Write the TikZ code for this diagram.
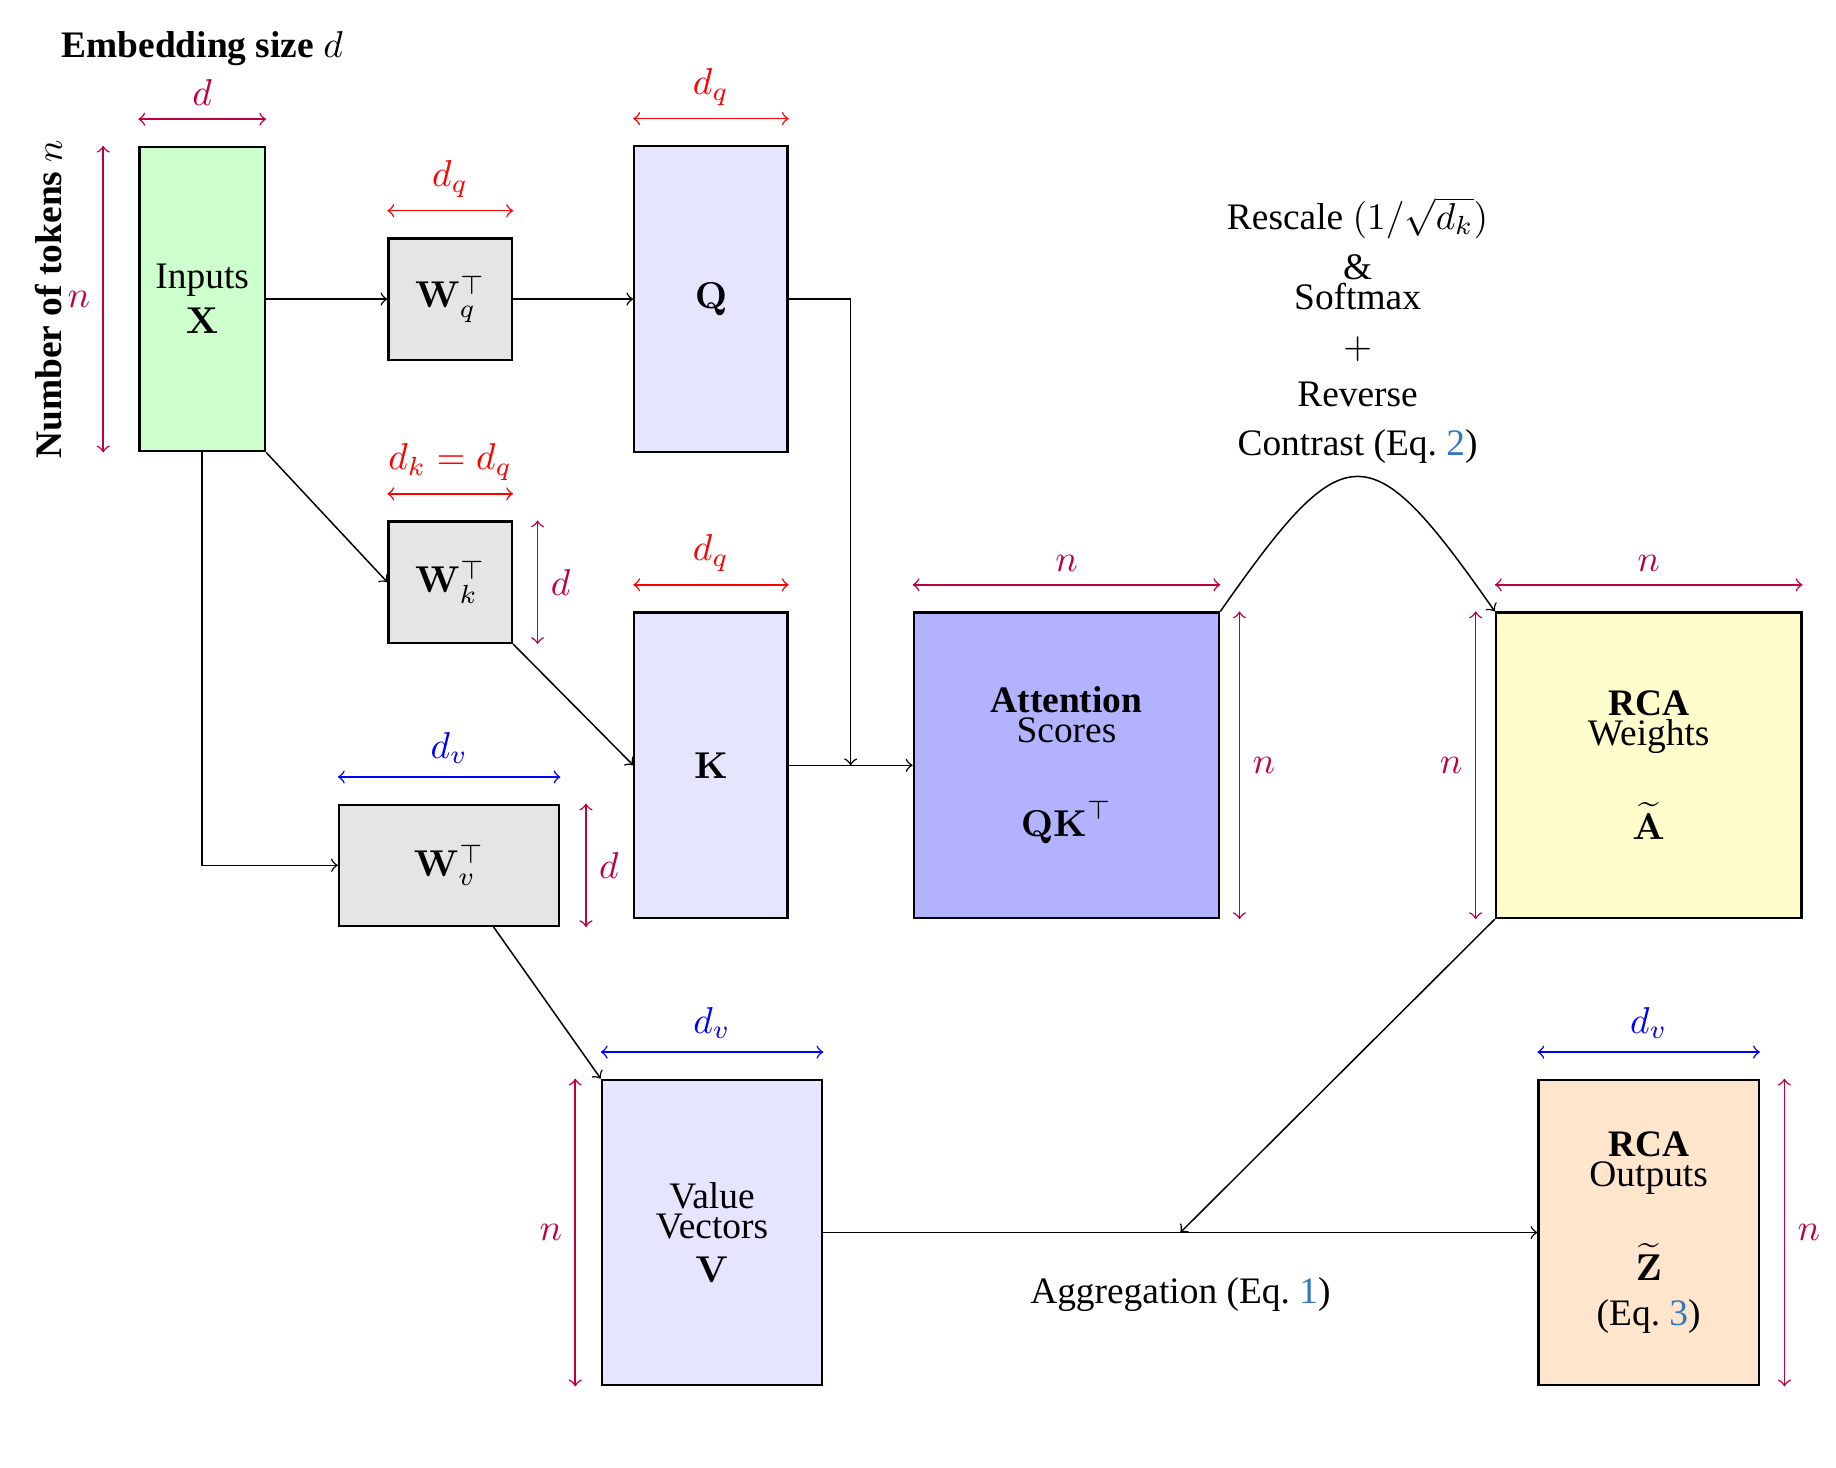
\documentclass[tikz,border=0pt]{standalone}
\usepackage[no-math]{fontspec}
\setmainfont{Liberation Serif}
\usepackage{amsmath}
\usetikzlibrary{arrows,positioning,calc}
\definecolor{eqcol}{RGB}{50,120,190}
\tikzset{
  mat/.style={draw,semithick,inner sep=0pt,align=center},
  dimr/.style={<->,red},
  dimb/.style={<->,blue},
  dimp/.style={<->,purple}
}

\begin{document}
\begin{tikzpicture}[thin]
\useasboundingbox(0,0)rectangle(17.25,-13.79);
\node[mat,fill=green!20,minimum width=1.18cm,minimum height=2.86cm](X)at(1.90,-2.81){Inputs\\$\mathbf{X}$};
\node[mat,fill=gray!20,minimum width=1.16cm,minimum height=1.14cm](Wq)at(4.23,-2.81){$\mathbf{W}_q^\top$};
\node[mat,fill=blue!10,minimum width=1.44cm,minimum height=2.87cm](Q)at(6.68,-2.81){$\mathbf{Q}$};
\node[mat,fill=gray!20,minimum width=1.16cm,minimum height=1.14cm](Wk)at(4.23,-5.47){$\mathbf{W}_k^\top$};
\node[mat,fill=blue!10,minimum width=1.44cm,minimum height=2.87cm](K)at(6.68,-7.19){$\mathbf{K}$};
\node[mat,fill=gray!20,minimum width=2.07cm,minimum height=1.14cm](Wv)at(4.22,-8.13){$\mathbf{W}_v^\top$};
\node[mat,fill=blue!10,minimum width=2.07cm,minimum height=2.87cm](V)at(6.69,-11.58){Value\\[-4pt]Vectors\\$\mathbf{V}$};
\node[mat,fill=blue!30,minimum width=2.87cm,minimum height=2.87cm](S)at(10.02,-7.19){\textbf{Attention}\\[-4pt]Scores\\[13pt]$\mathbf{QK}^\top$};
\node[mat,fill=yellow!20,minimum width=2.87cm,minimum height=2.87cm](A)at(15.49,-7.19){\textbf{RCA}\\[-4pt]Weights\\[13pt]$\widetilde{\mathbf{A}}$};
\node[mat,fill=orange!20,minimum width=2.07cm,minimum height=2.87cm](Z)at(15.49,-11.58){\textbf{RCA}\\[-4pt]Outputs\\[13pt]$\widetilde{\mathbf{Z}}$\\(Eq.~\textcolor{eqcol}{3})};
\node[font=\bfseries](emb)at(1.90,-0.46){Embedding size $d$};
\node[font=\bfseries,rotate=90](tok)at(0.46,-2.81){Number of tokens $n$};
\draw[dimp]([yshift=2.5mm]X.north west)--node[above]{$d$}([yshift=2.5mm]X.north east);
\draw[dimp]([xshift=-3.3mm]X.north west)--node[left]{$n$}([xshift=-3.3mm]X.south west);
\draw[dimr]([yshift=2.5mm]Wq.north west)--node[above]{$d_q$}([yshift=2.5mm]Wq.north east);
\draw[dimr]([yshift=2.5mm]Q.north west)--node[above]{$d_q$}([yshift=2.5mm]Q.north east);
\draw[dimr]([yshift=2.5mm]Wk.north west)--node[above]{$d_k=d_q$}([yshift=2.5mm]Wk.north east);
\draw[dimp]([xshift=2.3mm]Wk.north east)--node[right]{$d$}([xshift=2.3mm]Wk.south east);
\draw[dimr]([yshift=2.5mm]K.north west)--node[above]{$d_q$}([yshift=2.5mm]K.north east);
\draw[dimb]([yshift=2.5mm]Wv.north west)--node[above]{$d_v$}([yshift=2.5mm]Wv.north east);
\draw[dimp]([xshift=2.4mm]Wv.north east)--node[right]{$d$}([xshift=2.4mm]Wv.south east);
\draw[dimb]([yshift=2.5mm]V.north west)--node[above]{$d_v$}([yshift=2.5mm]V.north east);
\draw[dimp]([xshift=-2.4mm]V.north west)--node[left]{$n$}([xshift=-2.4mm]V.south west);
\draw[dimp]([yshift=2.5mm]S.north west)--node[above]{$n$}([yshift=2.5mm]S.north east);
\draw[dimp]([xshift=1.8mm]S.north east)--node[right]{$n$}([xshift=1.8mm]S.south east);
\draw[dimp]([yshift=2.5mm]A.north west)--node[above]{$n$}([yshift=2.5mm]A.north east);
\draw[dimp]([xshift=-1.8mm]A.north west)--node[left]{$n$}([xshift=-1.8mm]A.south west);
\draw[dimb]([yshift=2.5mm]Z.north west)--node[above]{$d_v$}([yshift=2.5mm]Z.north east);
\draw[dimp]([xshift=2.3mm]Z.north east)--node[right]{$n$}([xshift=2.3mm]Z.south east);
\coordinate(qk)at($(K.east)!0.5!(S.west)$);
\coordinate(agg)at($(V.east)!0.5!(Z.west)$);
\coordinate(wvo)at($(Wv.south west)!0.7!(Wv.south east)$);
\draw[->](X.east)--(Wq.west);
\draw[->](Wq.east)--(Q.west);
\draw[->](Q.east)-|(qk);
\draw[->](K.east)--(S.west);
\draw[->](X.south east)--(Wk.west);
\draw[->](X.south)|-(Wv.west);
\draw[->](Wk.south east)--(K.west);
\draw[->](wvo)--(V.north west);
\draw[->](S.north east)to[out=55,in=125,looseness=2.05]node[above,align=center]{Rescale $(1/\sqrt{d_k})$\\[1.5pt]\&\\[-4pt]Softmax\\[1pt]$+$\\[1pt]Reverse\\[1pt]Contrast (Eq.~\textcolor{eqcol}{2})}(A.north west);
\draw[->](A.south west)--(agg);
\draw[->](V.east)--node[below=3mm]{Aggregation (Eq.~\textcolor{eqcol}{1})}(Z.west);
\end{tikzpicture}
\end{document}
